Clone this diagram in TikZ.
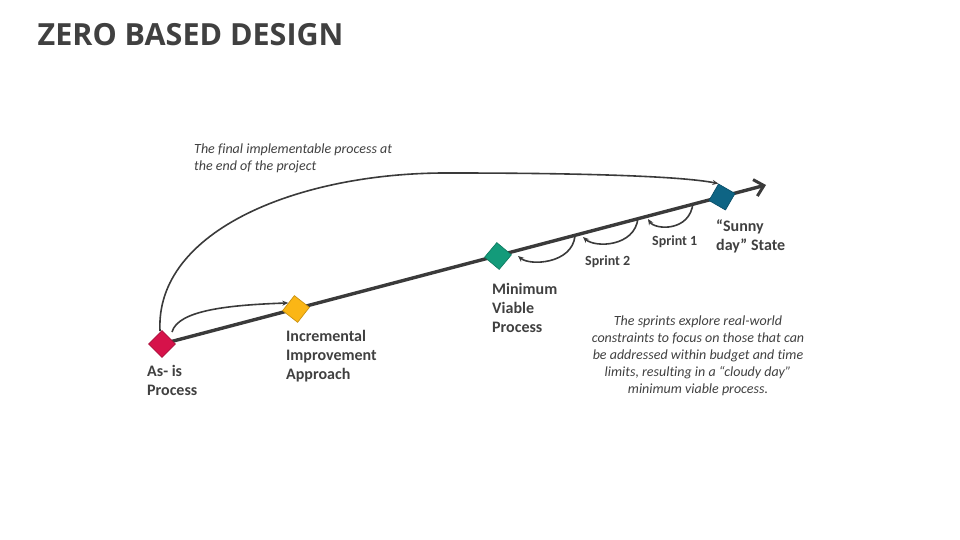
\documentclass[tikz,border=0pt]{standalone}
\usepackage{fontspec}
\setmainfont{Carlito}[Ligatures=NoCommon]
\newfontfamily\titlefont{Open Sans}
\usetikzlibrary{arrows.meta}
\definecolor{txt}{HTML}{404040}
\definecolor{ln}{HTML}{3A3A3A}
\definecolor{cred}{HTML}{D6124A}
\definecolor{cyel}{HTML}{FBB615}
\definecolor{cgrn}{HTML}{139B7A}
\definecolor{cblu}{HTML}{0E6484}
\pgfdeclarelayer{bg}
\pgfsetlayers{bg,main}
\tikzset{
  gem/.style={draw=#1!80!black, fill=#1, line width=0.7pt, minimum size=19pt, inner sep=0pt, shape=rectangle},
  lbl/.style={anchor=north west, inner sep=0pt, align=left, text=txt, font=\bfseries\fontsize{16}{19}\selectfont},
  sprintlbl/.style={anchor=north west, inner sep=0pt, text=txt, font=\bfseries\fontsize{14}{16}\selectfont},
  note/.style={inner sep=0pt, text=txt, font=\itshape\fontsize{14}{17}\selectfont},
  mainline/.style={ln, line width=3.4pt},
  thin/.style={ln, line width=1.6pt, -{Stealth[length=6pt,width=5pt]}},
}
\begin{document}
\begin{tikzpicture}[x=1pt,y=-1pt]
\useasboundingbox (0,0) rectangle (960,540);
\node[anchor=west, inner sep=0pt, text=txt, font=\titlefont\bfseries\fontsize{30.5}{34}\selectfont] (title) at (37.5,35) {ZERO BASED DESIGN};

\node[gem=cred, rotate=-45] (asis) at (162,344) {};
\node[gem=cyel, rotate=-38] (incr) at (296,309) {};
\node[gem=cgrn, rotate=-40] (mvp) at (498,256) {};
\node[gem=cblu, rotate=-30] (sunny) at (722,197) {};
\coordinate (tip) at (766,185);

\begin{pgfonlayer}{bg}
\draw[mainline, -{Straight Barb[length=9pt,width=17pt,line width=3pt]}] (asis.center) -- (tip);
\end{pgfonlayer}

% big curve
\coordinate (bigstart) at (160,331);
\draw[thin] (bigstart) .. controls (155,230) and (300,172) .. (450,173) .. controls (580,173) and (680,176) .. (sunny.north west);
% small curve
\coordinate (smallstart) at (172,332);
\draw[thin] (smallstart) .. controls (178,310) and (230,305) .. (incr.west);

% sprint arcs
\coordinate (s1a) at (693,203);
\coordinate (s1b) at (648,219);
\coordinate (s2a) at (638,218);
\coordinate (s2b) at (583,237);
\coordinate (s3a) at (575,236);
\coordinate (s3b) at (518,256);
\draw[thin] (s1a) .. controls (690,232) and (655,230) .. (s1b);
\draw[thin] (s2a) .. controls (635,247) and (595,248) .. (s2b);
\draw[thin] (s3a) .. controls (572,264) and (530,266) .. (s3b);

\node[sprintlbl] (sp1) at (652,235.5) {Sprint 1};
\node[sprintlbl] (sp2) at (585,255.5) {Sprint 2};

\node[lbl] (lasis) at (147,365.5) {As- is\\Process};
\node[lbl] (lincr) at (286,330.5) {Incremental\\Improvement\\Approach};
\node[lbl] (lmvp) at (492,283.5) {Minimum\\Viable\\Process};
\node[lbl] (lsunny) at (716,219) {“Sunny\\day” State};

\node[note, anchor=north west, align=left] (topnote) at (194,144) {The final implementable process at\\the end of the project};
\node[note, anchor=north, align=center] (botnote) at (698,315.5) {The sprints explore real-world\\constraints to focus on those that can\\be addressed within budget and time\\limits, resulting in a “cloudy day”\\minimum viable process.};
\end{tikzpicture}
\end{document}
